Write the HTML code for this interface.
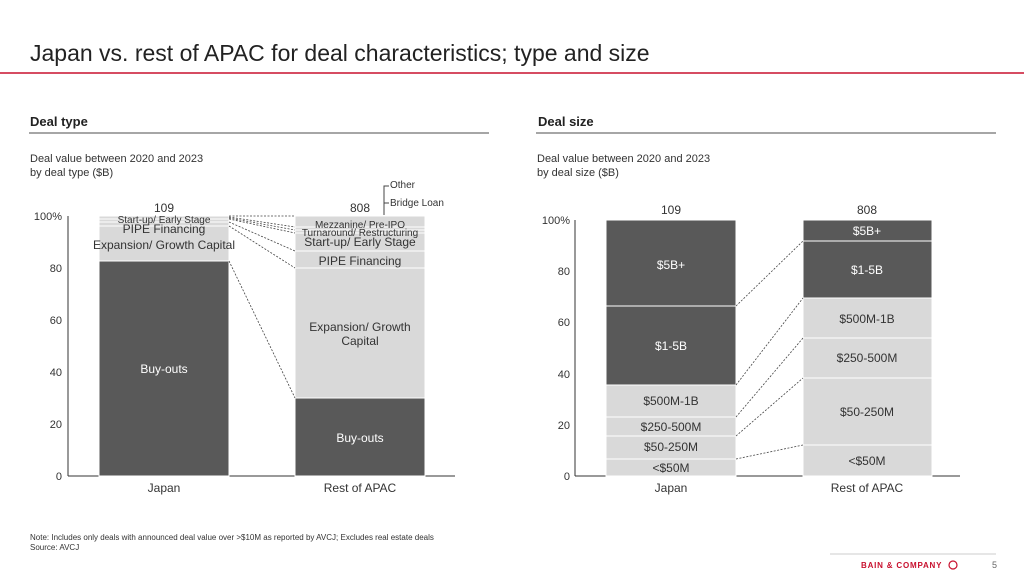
<!DOCTYPE html>
<html><head><meta charset="utf-8"><style>
body{margin:0;background:#fff;}
svg{display:block;font-family:"Liberation Sans",Arial,sans-serif;}
</style></head><body>
<svg width="1024" height="576" viewBox="0 0 1024 576">
<text x="30" y="61" font-size="23" fill="#222">Japan vs. rest of APAC for deal characteristics; type and size</text>
<line x1="0" y1="73" x2="1024" y2="73" stroke="#c8102e" stroke-width="1.5"/>
<text x="30" y="126" font-size="13" font-weight="bold" fill="#222">Deal type</text>
<text x="538" y="126" font-size="13" font-weight="bold" fill="#222">Deal size</text>
<line x1="29" y1="133" x2="489" y2="133" stroke="#888" stroke-width="1.5"/>
<line x1="536" y1="133" x2="996" y2="133" stroke="#888" stroke-width="1.5"/>
<g font-size="11" fill="#333">
<text x="30" y="162">Deal value between 2020 and 2023</text><text x="30" y="176">by deal type ($B)</text>
<text x="537" y="162">Deal value between 2020 and 2023</text><text x="537" y="176">by deal size ($B)</text>
</g>
<!-- left chart -->
<g font-size="11" fill="#333" text-anchor="end">
<text x="62" y="220">100%</text><text x="62" y="272">80</text><text x="62" y="324">60</text><text x="62" y="376">40</text><text x="62" y="428">20</text><text x="62" y="480">0</text>
</g>
<line x1="68" y1="216" x2="68" y2="476" stroke="#333"/><line x1="68" y1="476" x2="455" y2="476" stroke="#333"/>
<g stroke="#fff" stroke-width="1">
<rect x="99" y="261" width="130" height="215" fill="#595959"/>
<rect x="99" y="226" width="130" height="35" fill="#d9d9d9"/>
<rect x="99" y="222" width="130" height="4" fill="#d9d9d9"/>
<rect x="99" y="219" width="130" height="3" fill="#d9d9d9"/>
<rect x="99" y="216" width="130" height="3" fill="#d9d9d9"/>
<rect x="295" y="398" width="130" height="78" fill="#595959"/>
<rect x="295" y="268" width="130" height="130" fill="#d9d9d9"/>
<rect x="295" y="251" width="130" height="17" fill="#d9d9d9"/>
<rect x="295" y="233" width="130" height="18" fill="#d9d9d9"/>
<rect x="295" y="230" width="130" height="3" fill="#d9d9d9"/>
<rect x="295" y="227" width="130" height="3" fill="#d9d9d9"/>
<rect x="295" y="216" width="130" height="11" fill="#d9d9d9"/>
</g>
<g stroke="#444" stroke-dasharray="2,1.5" stroke-width="0.8">
<line x1="229" y1="261" x2="295" y2="398"/><line x1="229" y1="226" x2="295" y2="268"/>
<line x1="229" y1="222" x2="295" y2="251"/><line x1="229" y1="219" x2="295" y2="233"/>
<line x1="229" y1="218" x2="295" y2="230"/><line x1="229" y1="217" x2="295" y2="227"/>
<line x1="229" y1="216" x2="295" y2="216"/>
</g>
<g stroke="#444" fill="none"><path d="M384 215V186H389M384 203H389"/></g>
<g font-size="10" fill="#333"><text x="390" y="188">Other</text><text x="390" y="206">Bridge Loan</text></g>
<g font-size="12" fill="#333" text-anchor="middle">
<text x="164" y="212">109</text><text x="360" y="212">808</text>
<text x="164" y="492">Japan</text><text x="360" y="492">Rest of APAC</text>
<text x="164" y="249">Expansion/ Growth Capital</text>
<text x="164" y="233">PIPE Financing</text>
<text x="164" y="223" font-size="10">Start-up/ Early Stage</text>
<text x="360" y="265">PIPE Financing</text>
<text x="360" y="246">Start-up/ Early Stage</text>
<text x="360" y="236" font-size="10">Turnaround/ Restructuring</text>
<text x="360" y="228" font-size="10">Mezzanine/ Pre-IPO</text>
<text x="360" y="331">Expansion/ Growth</text><text x="360" y="345">Capital</text>
<text x="164" y="373" fill="#fff">Buy-outs</text>
<text x="360" y="442" fill="#fff">Buy-outs</text>
</g>
<!-- right chart -->
<g font-size="11" fill="#333" text-anchor="end">
<text x="570" y="224">100%</text><text x="570" y="275">80</text><text x="570" y="326">60</text><text x="570" y="378">40</text><text x="570" y="429">20</text><text x="570" y="480">0</text>
</g>
<line x1="575" y1="220" x2="575" y2="476" stroke="#333"/><line x1="575" y1="476" x2="960" y2="476" stroke="#333"/>
<g stroke="#fff" stroke-width="1">
<rect x="606" y="220" width="130" height="86" fill="#595959"/>
<rect x="606" y="306" width="130" height="79" fill="#595959"/>
<rect x="606" y="385" width="130" height="32" fill="#d9d9d9"/>
<rect x="606" y="417" width="130" height="19" fill="#d9d9d9"/>
<rect x="606" y="436" width="130" height="23" fill="#d9d9d9"/>
<rect x="606" y="459" width="130" height="17" fill="#d9d9d9"/>
<rect x="803" y="220" width="129" height="21" fill="#595959"/>
<rect x="803" y="241" width="129" height="57" fill="#595959"/>
<rect x="803" y="298" width="129" height="40" fill="#d9d9d9"/>
<rect x="803" y="338" width="129" height="40" fill="#d9d9d9"/>
<rect x="803" y="378" width="129" height="67" fill="#d9d9d9"/>
<rect x="803" y="445" width="129" height="31" fill="#d9d9d9"/>
</g>
<g stroke="#444" stroke-dasharray="2,1.5" stroke-width="0.8">
<line x1="736" y1="306" x2="803" y2="241"/><line x1="736" y1="385" x2="803" y2="298"/>
<line x1="736" y1="417" x2="803" y2="338"/><line x1="736" y1="436" x2="803" y2="378"/>
<line x1="736" y1="459" x2="803" y2="445"/>
</g>
<g font-size="12" fill="#333" text-anchor="middle">
<text x="671" y="214">109</text><text x="867" y="214">808</text>
<text x="671" y="492">Japan</text><text x="867" y="492">Rest of APAC</text>
<text x="671" y="269" fill="#fff">$5B+</text><text x="671" y="350" fill="#fff">$1-5B</text>
<text x="671" y="405">$500M-1B</text><text x="671" y="431">$250-500M</text>
<text x="671" y="451">$50-250M</text><text x="671" y="472">&lt;$50M</text>
<text x="867" y="235" fill="#fff">$5B+</text><text x="867" y="274" fill="#fff">$1-5B</text>
<text x="867" y="323">$500M-1B</text><text x="867" y="362">$250-500M</text>
<text x="867" y="416">$50-250M</text><text x="867" y="465">&lt;$50M</text>
</g>
<g font-size="8" fill="#333"><text x="30" y="540">Note: Includes only deals with announced deal value over &gt;$10M as reported by AVCJ; Excludes real estate deals</text>
<text x="30" y="550">Source: AVCJ</text></g>
<line x1="830" y1="554" x2="996" y2="554" stroke="#ccc"/>
<text x="861" y="568" font-size="8" font-weight="bold" fill="#c8102e" letter-spacing="0.8">BAIN &amp; COMPANY</text>
<circle cx="953" cy="565" r="4" fill="none" stroke="#c8102e" stroke-width="1.2"/>
<text x="992" y="568" font-size="9" fill="#666">5</text>
</svg>
</body></html>
